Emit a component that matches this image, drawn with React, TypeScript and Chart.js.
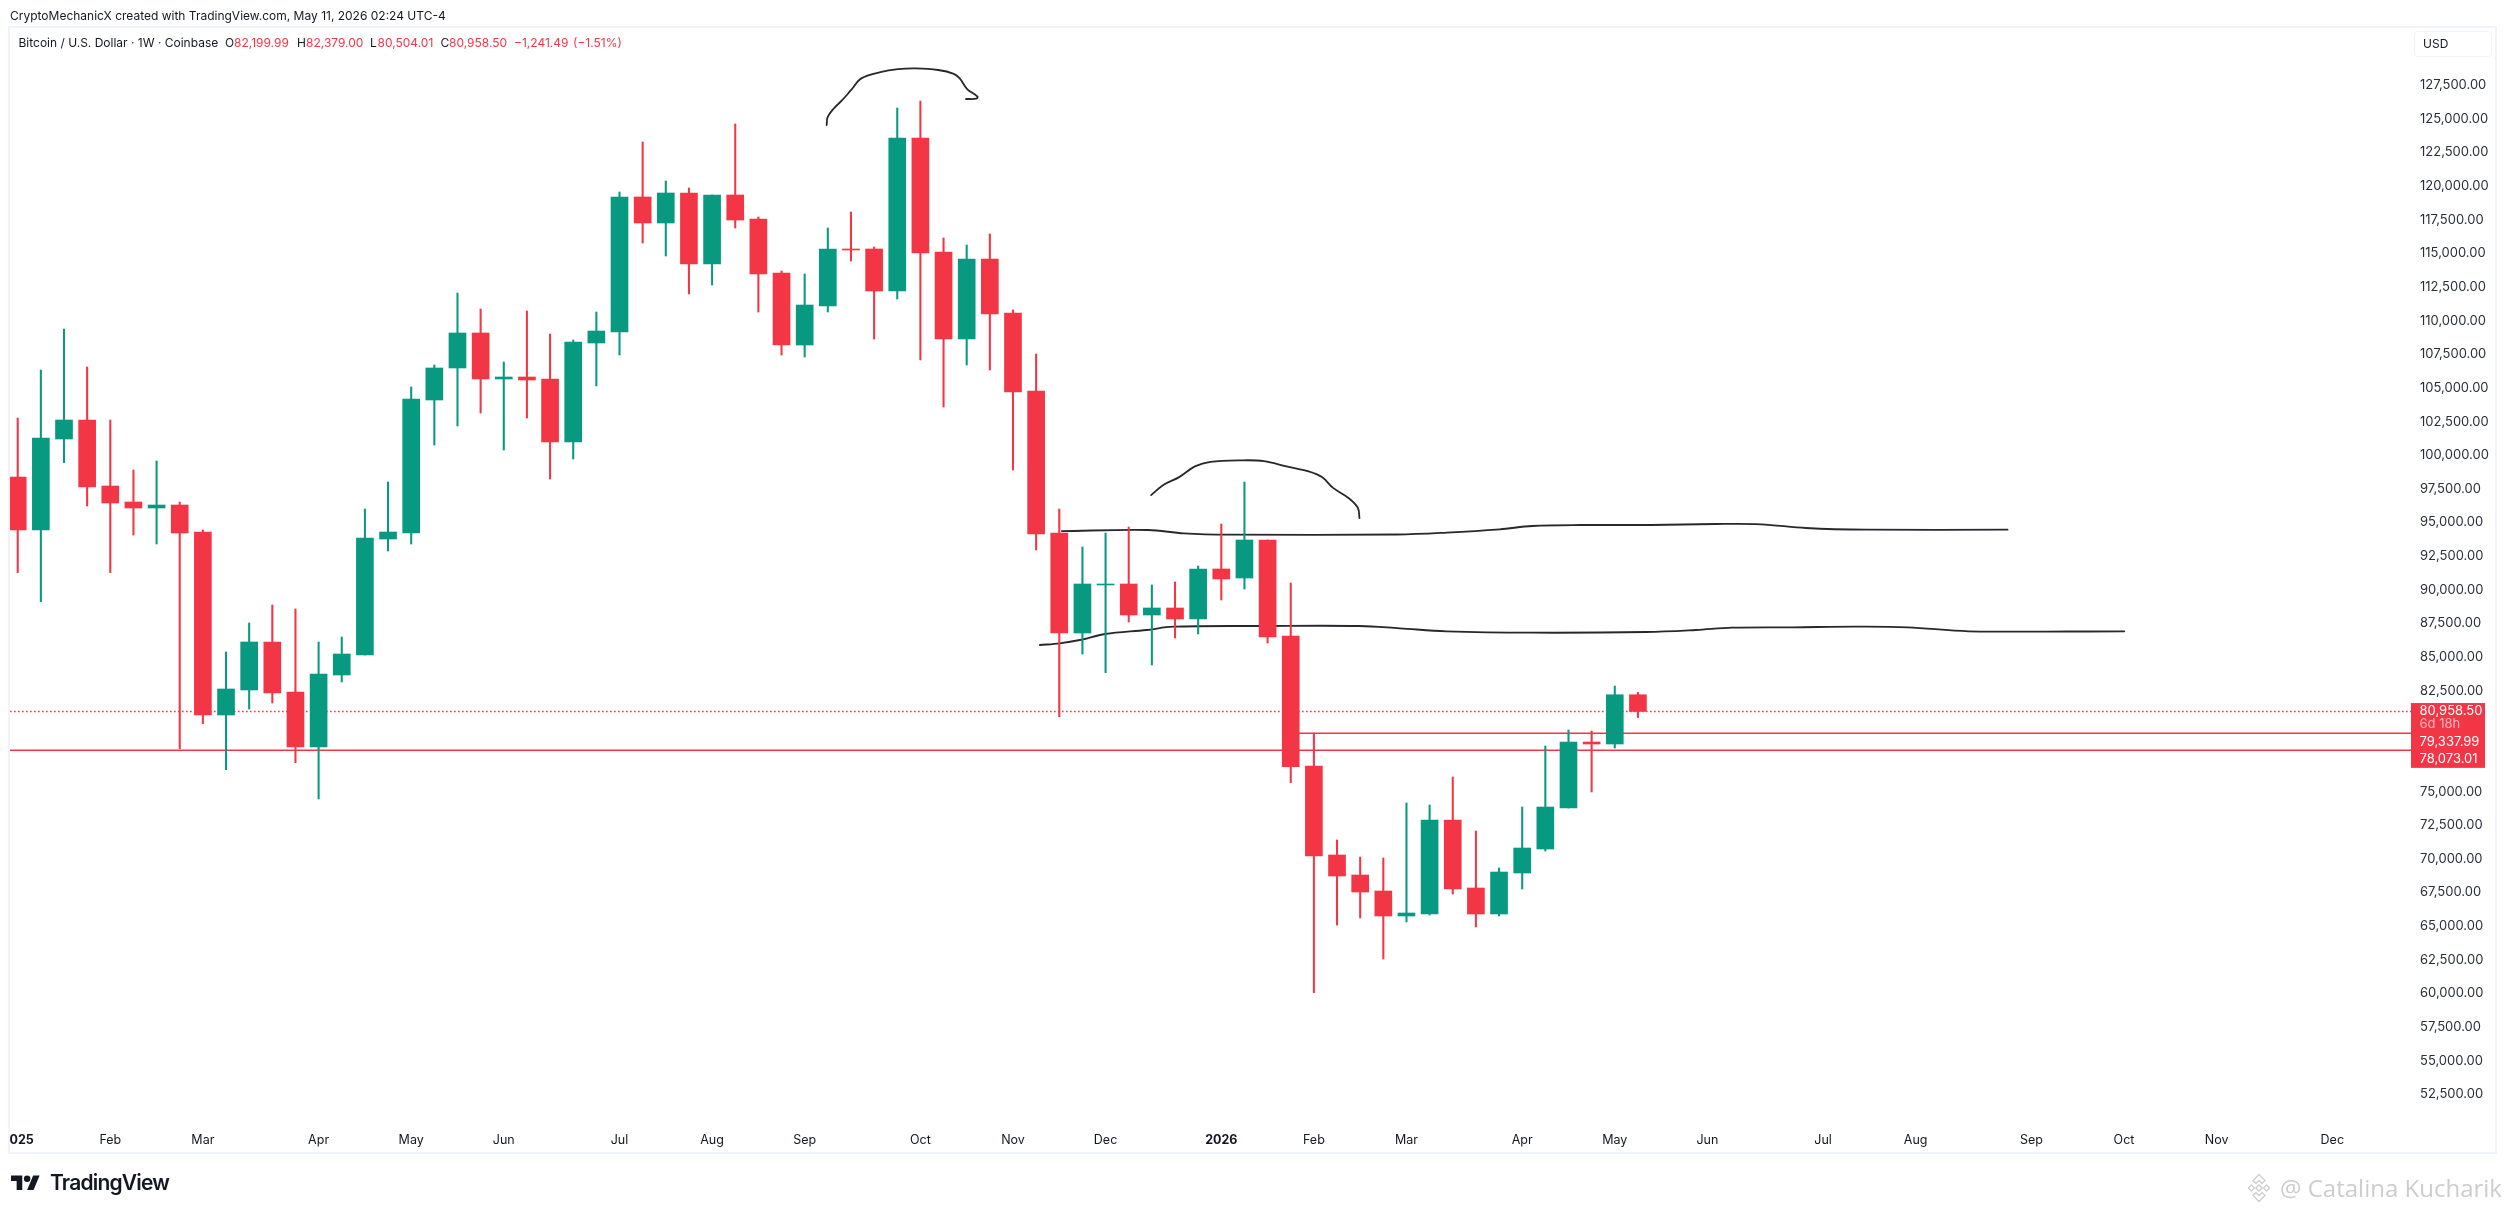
import React, { useEffect, useRef } from "react";
import { Chart, registerables } from "chart.js";

Chart.register(...registerables);

const RED = "#F23645";
const GREEN = "#089981";
const INK = "#131722";

const opens = [98385,94445,101209,102621,97715,96527,96080,96303,94296,80694,82553,86120,82404,78315,83667,85153,93776,94222,104108,106487,109088,105669,105817,105669,100986,108345,109162,119197,117265,119494,114217,119346,117562,113548,108196,111095,115332,115332,112210,123582,115109,108642,114589,110575,104777,94222,86789,90358,90432,88127,88648,87829,91547,90877,93702,86566,76904,70288,68801,67612,65754,65903,72889,67835,65903,68950,70734,73781,78687,78538,82199.99];
const closes = [94445,101283,102621,97641,96452,96080,96303,94222,80694,82627,86120,82329,78315,83742,85228,93850,94296,104182,106487,109088,105669,105817,105595,100986,108419,109236,119197,117265,119494,114217,119346,117487,113473,108196,111169,115332,115258,112210,123582,115035,108642,114589,110500,104703,94148,86789,90432,90432,88127,88648,87829,91547,90803,93702,86492,76852,70213,68727,67537,65754,65977,72889,67761,65903,69024,70808,73856,78687,78538,82200,80958.5];
const highs = [102770,106338,109385,106561,102621,98905,99574,96527,94445,85377,87532,88870,88573,86120,86492,96006,98013,105074,106710,112061,110872,106933,110723,109014,108568,110649,119569,123285,120386,119866,119346,124623,117711,113697,113473,116893,118082,115481,125812,126333,116149,115629,116447,110798,107527,96006,93181,94222,94668,90358,90580,91771,94891,98013,93702,90506,79356,71403,70139,70065,74153,74004,76086,72072,69322,73856,78390,79579,79505,82849,82379];
const lows = [91271,89115,99447,96229,91271,94073,93404,78189,80047,76628,81140,81586,77148,74450,83147,85153,92884,93404,100763,102175,103142,100391,102770,98236,99723,105149,107453,115778,114812,111987,112656,116893,110649,107453,107304,110649,114440,108642,111615,107081,103588,106710,106338,98905,92959,80568,85228,83838,87607,84411,86418,86715,89242,90060,86046,75662,60053,65085,65607,62558,65308,65828,67390,64936,65754,67761,70585,73781,74971,78241,80504.01];

const priceTicks = [127500,125000,122500,120000,117500,115000,112500,110000,107500,105000,102500,100000,97500,95000,92500,90000,87500,85000,82500,75000,72500,70000,67500,65000,62500,60000,57500,55000,52500];
const monthPositions = [0,4,8,13,17,21,26,30,34,39,43,47,52,56,60,65,69,73,78,82,87,91,95,100];
const monthLabels = ["2025","Feb","Mar","Apr","May","Jun","Jul","Aug","Sep","Oct","Nov","Dec","2026","Feb","Mar","Apr","May","Jun","Jul","Aug","Sep","Oct","Nov","Dec"];

const xMin = -0.333;
const xMax = 103.4;
const yMin = 50219;
const yMax = 131833;

const lastPrice = 80958.5;
const levelA = 79337.99;
const levelB = 78073.01;
const levelAStart = 55;

const arcOneX = [34.95,34.99,35.24,35.62,36.01,36.45,37.27,38.03,38.8,39.77,40.44,40.7,41.02,41.47,41.41,40.97];
const arcOneY = [124549,125114,125738,126392,127158,128013,128474,128697,128756,128637,128355,128013,127218,126653,126504,126482];
const arcTwoX = [48.97,49.51,50.18,50.86,51.53,52.88,53.85,54.81,55.77,56.35,56.83,57.51,57.9,57.97];
const arcTwoY = [97040,97805,98377,99173,99515,99626,99567,99173,98801,98377,97575,96809,96096,95330];
const upperX = [45.11,48.83,50.38,52.31,59.62,61.74,64.03,65.44,67.55,70.55,73.36,75.31,77.25,79.88,85.97];
const upperY = [94364,94446,94193,94096,94111,94252,94497,94743,94817,94817,94891,94869,94594,94468,94468];
const lowerX = [44.16,45.02,45.89,46.98,48.77,49.92,53.79,57.98,59.71,61.73,65.46,70.37,72.5,74.08,76.73,79.37,81.66,84.29,91.01];
const lowerY = [85897,86024,86269,86715,87012,87258,87310,87310,87139,86916,86812,86864,87012,87183,87213,87258,87213,86916,86916];

const FONT = "Inter, 'Noto Sans', sans-serif";
const zip = (xs: number[], ys: number[]) => xs.map((x, i) => ({ x, y: ys[i] }));

const priceTags = {
  id: "priceTags",
  afterDraw(chart: any) {
    const { ctx, scales } = chart;
    const y = scales.y;
    const top = y.getPixelForValue(lastPrice) - 8.4;
    const bottom = y.getPixelForValue(levelB) + 17.6;
    const left = chart.chartArea.right;
    ctx.save();
    // trims the first date label where the pane ends
    ctx.clearRect(0, 1128, chart.chartArea.left, 26);
    ctx.fillStyle = RED;
    ctx.fillRect(left, top, 74, bottom - top);
    ctx.font = `13px ${FONT}`;
    ctx.textBaseline = "middle";
    ctx.textAlign = "left";
    const tx = left + 8.5;
    ctx.fillStyle = "#ffffff";
    ctx.fillText("80,958.50", tx, y.getPixelForValue(lastPrice) - 0.6);
    ctx.fillStyle = "rgba(255,255,255,0.62)";
    ctx.fillText("6d 18h", tx, y.getPixelForValue(lastPrice) + 13);
    ctx.fillStyle = "#ffffff";
    ctx.fillText("79,337.99", tx, y.getPixelForValue(levelA) + 8.5);
    ctx.fillText("78,073.01", tx, y.getPixelForValue(levelB) + 8.5);
    ctx.restore();
  },
};

const abs = (left: number, top: number, extra: any = {}): any => ({
  position: "absolute",
  left,
  top,
  whiteSpace: "nowrap",
  ...extra,
});

const legendBits: [number, string, string][] = [
  [18.5, "Bitcoin / U.S. Dollar · 1W · Coinbase", INK],
  [225, "O", INK],
  [234, "82,199.99", RED],
  [297, "H", INK],
  [306, "82,379.00", RED],
  [370, "L", INK],
  [377.5, "80,504.01", RED],
  [440.6, "C", INK],
  [449, "80,958.50", RED],
  [514, "−1,241.49", RED],
  [573, "(−1.51%)", RED],
];

export default function App() {
  const ref = useRef<HTMLCanvasElement>(null);

  useEffect(() => {
    const canvas = ref.current;
    if (!canvas) return;
    const idx = opens.map((_, i) => i);
    const colors = idx.map((i) => (closes[i] >= opens[i] ? GREEN : RED));
    const lineBase = { type: "line", pointRadius: 0, fill: false, order: 3 };
    const ink = { ...lineBase, borderColor: "#27282C", borderWidth: 1.8, tension: 0.35, borderCapStyle: "round" };
    const chart = new Chart(canvas, {
      type: "bar",
      plugins: [priceTags],
      data: {
        datasets: [
          {
            label: "body",
            data: idx.map((i) => ({ x: i, y: [opens[i], closes[i]] })),
            backgroundColor: colors,
            grouped: false,
            barPercentage: 1,
            categoryPercentage: 1,
            maxBarThickness: 17,
            borderWidth: 0,
            order: 1,
          },
          {
            label: "wick",
            data: idx.map((i) => ({ x: i, y: [lows[i], highs[i]] })),
            backgroundColor: colors,
            grouped: false,
            barPercentage: 1,
            categoryPercentage: 1,
            maxBarThickness: 1.4,
            borderWidth: 0,
            order: 2,
          },
          { ...lineBase, label: "last", data: [{ x: xMin, y: lastPrice }, { x: xMax, y: lastPrice }], borderColor: RED, borderWidth: 1.4, borderDash: [1.6, 2.4] },
          { ...lineBase, label: "levelA", data: [{ x: levelAStart, y: levelA }, { x: xMax, y: levelA }], borderColor: RED, borderWidth: 1.5 },
          { ...lineBase, label: "levelB", data: [{ x: xMin, y: levelB }, { x: xMax, y: levelB }], borderColor: RED, borderWidth: 1.5 },
          { ...ink, label: "arcOne", data: zip(arcOneX, arcOneY) },
          { ...ink, label: "arcTwo", data: zip(arcTwoX, arcTwoY) },
          { ...ink, label: "upper", data: zip(upperX, upperY) },
          { ...ink, label: "lower", data: zip(lowerX, lowerY) },
        ] as any,
      },
      options: {
        responsive: false,
        devicePixelRatio: 1,
        animation: false,
        events: [],
        layout: { padding: { left: 10, top: 27, right: 0, bottom: 0 } },
        plugins: { legend: { display: false }, tooltip: { enabled: false } },
        scales: {
          x: {
            type: "linear",
            offset: false,
            min: xMin,
            max: xMax,
            grid: { display: false, drawTicks: false },
            border: { display: false },
            afterBuildTicks: (s: any) => {
              s.ticks = monthPositions.map((value) => ({ value }));
            },
            afterFit: (s: any) => {
              s.height = 88;
              s.paddingLeft = 0;
              s.paddingRight = 0;
            },
            ticks: {
              autoSkip: false,
              maxRotation: 0,
              minRotation: 0,
              padding: 8,
              color: INK,
              font: (c: any) => ({
                family: FONT,
                size: 12.5,
                weight: monthLabels[c.index]?.startsWith("20") ? "700" : "400",
              }),
              callback: (_v: any, i: number) => monthLabels[i],
            },
          },
          y: {
            type: "linear",
            position: "right",
            min: yMin,
            max: yMax,
            grid: { display: false, drawTicks: false },
            border: { display: false },
            afterBuildTicks: (s: any) => {
              s.ticks = priceTicks.map((value) => ({ value }));
            },
            afterFit: (s: any) => {
              s.width = 95;
              s.paddingTop = 0;
              s.paddingBottom = 0;
            },
            ticks: {
              autoSkip: false,
              crossAlign: "near",
              padding: 9,
              color: "#2A2E39",
              font: { family: FONT, size: 13 },
              callback: (v: any) =>
                Number(v).toLocaleString("en-US", { minimumFractionDigits: 2, maximumFractionDigits: 2 }),
            },
          },
        },
      } as any,
    });
    return () => chart.destroy();
  }, []);

  return (
    <div style={{ position: "absolute", left: 0, top: 0, width: 2506, height: 1213, background: "#fff", overflow: "hidden", fontFamily: FONT, color: INK }}>
      <div style={{ position: "absolute", left: 8, top: 26, width: 2489, height: 1128, boxSizing: "border-box", border: "2px solid #F0F3FA" }} />
      <canvas ref={ref} width={2506} height={1213} style={{ position: "absolute", left: 0, top: 0, display: "block" }} />
      <div style={abs(10, 8, { fontSize: 12, lineHeight: "16px" })}>CryptoMechanicX created with TradingView.com, May 11, 2026 02:24 UTC-4</div>
      {legendBits.map(([x, text, color]) => (
        <div key={x} style={abs(x, 35, { fontSize: 12, lineHeight: "16px", color })}>{text}</div>
      ))}
      <div style={{ position: "absolute", left: 2414, top: 31, width: 78, height: 26, boxSizing: "border-box", border: "1px solid #F0F3FA", borderRadius: 4, fontSize: 12, lineHeight: "24px", paddingLeft: 8 }}>USD</div>
      <svg style={{ position: "absolute", left: 11, top: 1172 }} width="29" height="23" viewBox="0 0 36 28">
        <path d="M14 22H7V11H0V4h14v18zM28 22h-8l7.5-18h8L28 22z" fill={INK} />
        <circle cx="20" cy="8" r="4" fill={INK} />
      </svg>
      <div style={abs(50, 1170, { fontSize: 21, lineHeight: "26px", fontWeight: 600, letterSpacing: "-0.8px" })}>TradingView</div>
      <svg style={{ position: "absolute", left: 2244, top: 1173 }} width="30" height="30" viewBox="0 0 30 30" fill="none" stroke="#CFCFCF" strokeWidth="1.4">
        <path d="M15 1.5 L21 7.5 L18 10.5 L15 7.5 L12 10.5 L9 7.5 Z" />
        <path d="M15 28.5 L21 22.5 L18 19.5 L15 22.5 L12 19.5 L9 22.5 Z" />
        <path d="M4.5 15 L7.5 12 L10.5 15 L7.5 18 Z" />
        <path d="M19.5 15 L22.5 12 L25.5 15 L22.5 18 Z" />
        <path d="M15 12 L18 15 L15 18 L12 15 Z" />
      </svg>
      <div style={abs(2280, 1172, { fontSize: 24, lineHeight: "32px", fontFamily: "'Open Sans', sans-serif", color: "#CDCDCD" })}>@ Catalina Kucharik</div>
    </div>
  );
}
